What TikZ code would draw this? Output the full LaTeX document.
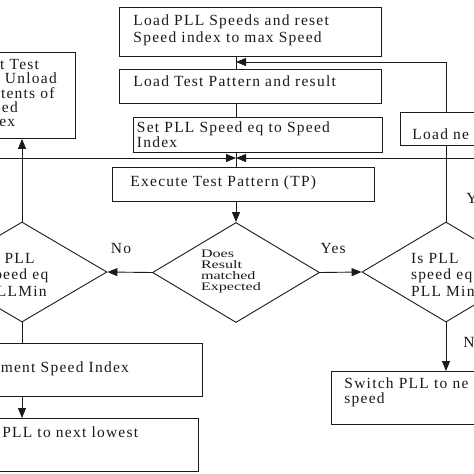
\documentclass[tikz,border=0pt]{standalone}
\usepackage{fontspec}
\setmainfont{Liberation Serif}[LetterSpace=8.0]
\newfontfamily\smallfont{Liberation Serif}[FakeStretch=1.4]
\usetikzlibrary{shapes.geometric,arrows.meta}
\definecolor{ink}{HTML}{1A1A1A}
\begin{document}
\begin{tikzpicture}[x=1pt,y=-1pt,line width=0.9pt,color=ink,
  box/.style={draw, rectangle, anchor=north west, inner ysep=0pt, align=left,
    font=\fontsize{15.5}{17}\selectfont},
  dia/.style={draw, diamond, inner sep=0pt, minimum height=100pt, aspect=1.7,
    text width=70pt, align=left, text height=10pt, text depth=28pt,
    font=\fontsize{15.5}{16.5}\selectfont},
  arr/.style={-{Triangle[length=10pt,width=8pt]}},
  lbl/.style={font=\fontsize{15.5}{17}\selectfont, inner sep=0pt}]
\useasboundingbox (0,0) rectangle (474,474);
\clip (0,0) rectangle (474,474);
% boxes
\node[box, inner xsep=14pt, text width=234pt, text height=18pt, text depth=31pt] (b1) at (119,7)
  {Load PLL Speeds and reset\\Speed index to max Speed};
\node[box, inner xsep=14pt, text width=234pt, text height=17pt, text depth=17pt] (b2) at (119,69)
  {Load Test Pattern and result};
\node[box, inner xsep=3.5pt, text width=242pt, text height=15pt, text depth=20pt,
  font=\fontsize{15.5}{15}\selectfont] (b3) at (133,117)
  {Set PLL Speed eq to Speed\\Index};
\node[box, inner xsep=18pt, text width=226pt, text height=19pt, text depth=15pt] (ex) at (112,167)
  {Execute Test Pattern (TP)};
\node[box, inner xsep=5pt, text width=95.5pt, text height=17pt, text depth=69pt,
  font=\fontsize{15.5}{14.3}\selectfont] (lb) at (-30.5,52)
  {Exit Test\\and Unload\\contents of\\Speed\\Index};
\node[box, inner xsep=12pt, text width=120pt, text height=27pt, text depth=6pt] (ln) at (400,112)
  {Load ne};
\node[box, inner xsep=5pt, text width=234.7pt, text height=29pt, text depth=24pt] (ib) at (-42.7,343)
  {Increment Speed Index};
\node[box, inner xsep=5pt, text width=245.6pt, text height=19pt, text depth=34pt] (nl) at (-57.6,418)
  {Switch PLL to next lowest};
\node[box, inner xsep=13pt, text width=200pt, text height=17pt, text depth=36pt,
  font=\fontsize{15.5}{15}\selectfont] (sw) at (331,371)
  {Switch PLL to ne\\speed};
% diamonds
\node[dia, minimum width=167pt, text height=8pt, text depth=39pt,
  font=\smallfont\fontsize{11.5}{11}\selectfont] (md) at (236,272.5)
  {Does\\Result\\matched\\Expected};
\node[dia, minimum width=170pt] (ld) at (22,272) {Is PLL\\speed eq\\PLLMin};
\node[dia, minimum width=168pt] (rd) at (446,272) {Is PLL\\speed eq\\PLL Min};
% spine and junctions
\coordinate (spine) at (236,62);
\coordinate (junc) at (236,158);
\coordinate (lin) at (-4,158);
\coordinate (rin) at (478,158);
% connectors
\draw (b1.south -| spine) -- (b2.north -| spine);
\draw (b2.south -| spine) -- (b3.north -| spine);
\draw (b3.south -| spine) -- (ex.north -| spine);
\draw[arr] (lin) -- (junc);
\draw[arr] (rin) -- (junc);
\draw[arr] (ex.south -| md.north) -- (md.north);
\draw[arr] (md.west) -- (ld.east)
  node[lbl, pos=0.696, anchor=base, yshift=19pt] (lno) {No};
\draw[arr] (md.east) -- (rd.west)
  node[lbl, pos=0.32, anchor=base, yshift=19pt] (lyes) {Yes};
\draw[arr] (ld.north) -- (ld.north |- lb.south);
\draw (ld.south) -- (ld.south |- ib.north);
\draw[arr] (ld.south |- ib.south) -- (ld.south |- nl.north);
\draw (rd.north) -- (rd.north |- ln.south)
  node[lbl, pos=0.234, anchor=base west, xshift=20pt] (ryes) {Yes};
\draw[arr] (rd.north |- ln.north) |- (spine);
\draw[arr] (rd.south) -- (rd.south |- sw.north)
  node[lbl, pos=0.51, anchor=base west, xshift=17pt] (rno) {No};
\end{tikzpicture}
\end{document}
